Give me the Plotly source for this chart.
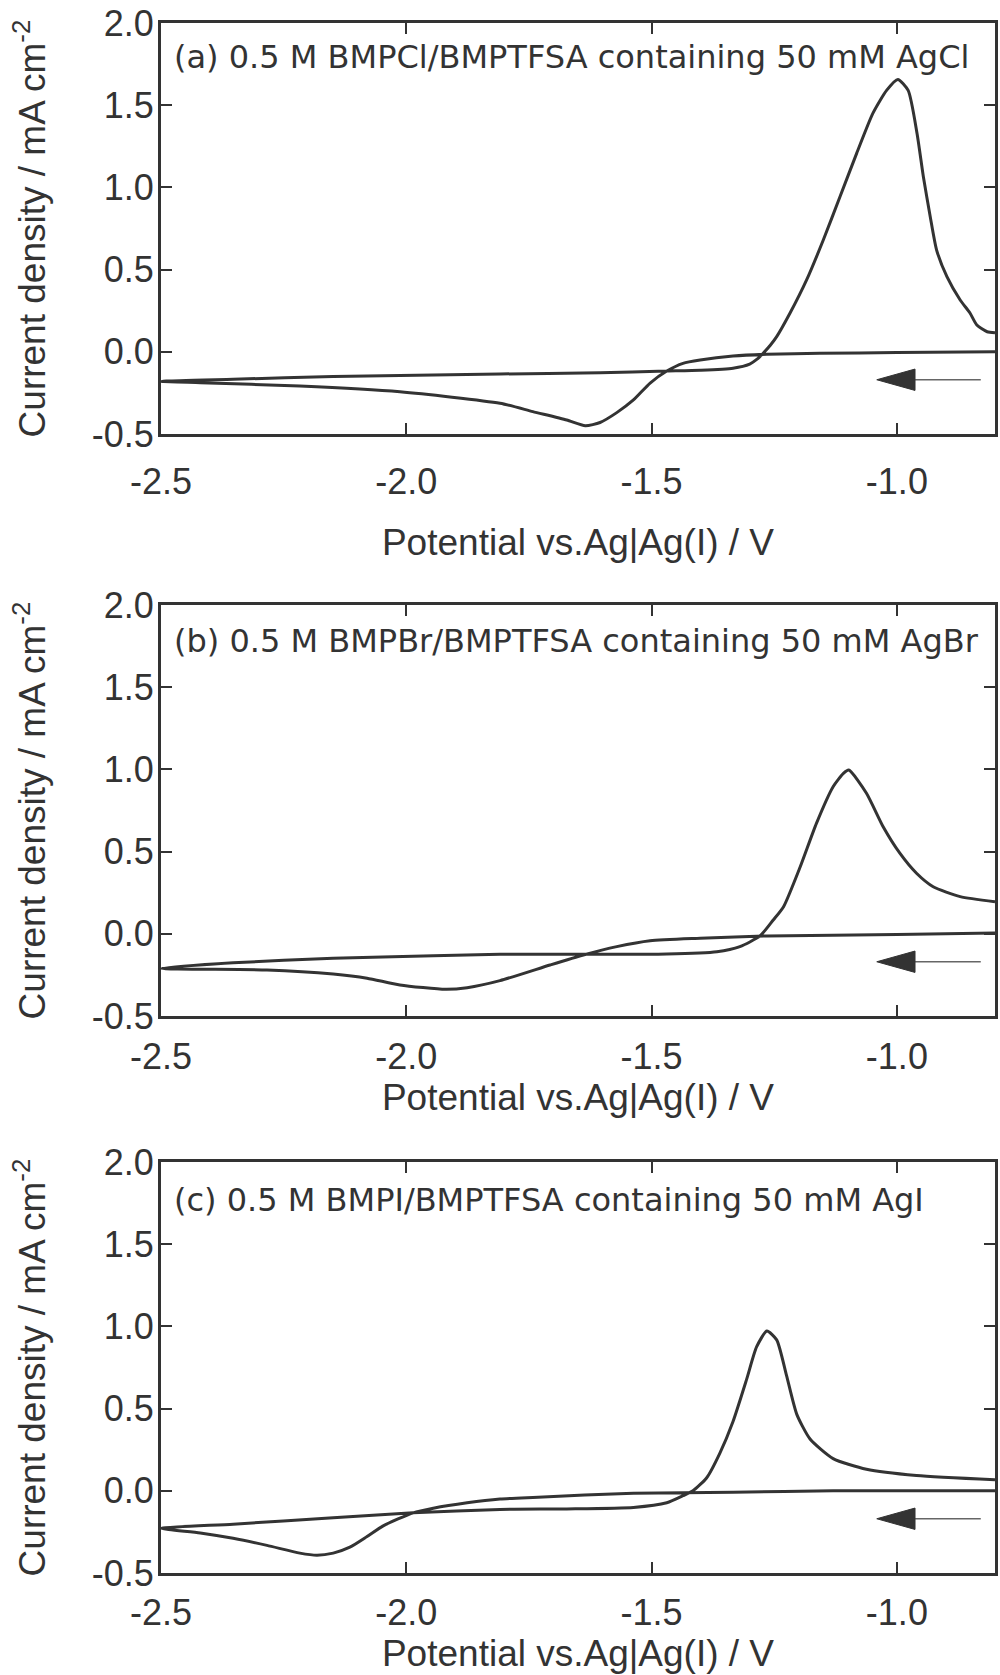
import plotly.graph_objects as go

# ---------------- data ----------------
x_tick_vals = [-2.5, -2.0, -1.5, -1.0]
x_tick_text = ["-2.5", "-2.0", "-1.5", "-1.0"]
y_tick_vals = [-0.5, 0.0, 0.5, 1.0, 1.5, 2.0]
y_tick_text = ["-0.5", "0.0", "0.5", "1.0", "1.5", "2.0"]

x_title = "Potential vs.Ag|Ag(I) / V"
y_title = "Current density / mA cm<sup>-2</sup>"

panel_labels = [
    "(a) 0.5 M BMPCl/BMPTFSA containing 50 mM AgCl",
    "(b) 0.5 M BMPBr/BMPTFSA containing 50 mM AgBr",
    "(c) 0.5 M BMPI/BMPTFSA containing 50 mM AgI",
]

# (a) AgCl: cathodic scan from -0.8 V to -2.5 V, then anodic scan back
a_potential = [-0.80, -1.00, -1.157, -1.265, -1.334, -1.401, -1.436, -1.469, -1.503, -1.537,
               -1.571, -1.605, -1.635, -1.673, -1.742, -1.809, -2.013, -2.217, -2.42, -2.50,
               -2.353, -2.149, -1.809, -1.605, -1.469, -1.401, -1.334, -1.30, -1.285, -1.273,
               -1.258, -1.245, -1.218, -1.184, -1.15, -1.116, -1.082, -1.049, -1.021, -0.998,
               -0.977, -0.959, -0.946, -0.932, -0.919, -0.898, -0.871, -0.851, -0.837, -0.816, -0.80]
a_current = [0.0, -0.005, -0.009, -0.015, -0.026, -0.05, -0.07, -0.117, -0.19, -0.293,
             -0.37, -0.43, -0.45, -0.415, -0.364, -0.313, -0.243, -0.208, -0.188, -0.18,
             -0.167, -0.151, -0.135, -0.127, -0.117, -0.112, -0.10, -0.075, -0.045, -0.01,
             0.04, 0.092, 0.234, 0.437, 0.68, 0.943, 1.207, 1.45, 1.59, 1.657,
             1.59, 1.33, 1.065, 0.822, 0.619, 0.457, 0.315, 0.236, 0.163, 0.122, 0.116]

# (b) AgBr
b_potential = [-0.80, -1.00, -1.265, -1.401, -1.503, -1.571, -1.639, -1.707, -1.809, -1.876,
               -1.92, -2.013, -2.08, -2.149, -2.284, -2.50,
               -2.353, -2.149, -1.945, -1.809, -1.639, -1.469, -1.367, -1.32, -1.279, -1.252,
               -1.231, -1.197, -1.164, -1.130, -1.109, -1.098, -1.062, -1.028, -0.994, -0.96,
               -0.926, -0.871, -0.80]
b_current = [0.005, -0.005, -0.013, -0.027, -0.042, -0.078, -0.129, -0.19, -0.285, -0.328,
             -0.338, -0.311, -0.27, -0.245, -0.22, -0.21,
             -0.176, -0.149, -0.133, -0.125, -0.125, -0.123, -0.109, -0.078, -0.013, 0.084,
             0.165, 0.408, 0.672, 0.895, 0.976, 0.996, 0.855, 0.651, 0.49, 0.368,
             0.286, 0.226, 0.195]

# (c) AgI
c_potential = [-0.80, -1.13, -1.334, -1.537, -1.742, -1.809, -1.876, -1.945, -1.986, -2.047,
               -2.08, -2.115, -2.149, -2.182, -2.217, -2.284, -2.353, -2.42, -2.50,
               -2.353, -2.149, -1.986, -1.809, -1.673, -1.537, -1.469, -1.436, -1.415, -1.388,
               -1.361, -1.334, -1.306, -1.286, -1.265, -1.245, -1.225, -1.204, -1.177, -1.13,
               -1.062, -0.96, -0.80]
c_current = [0.0, 0.0, -0.009, -0.015, -0.04, -0.05, -0.073, -0.106, -0.134, -0.213,
             -0.278, -0.343, -0.379, -0.392, -0.379, -0.332, -0.289, -0.256, -0.228,
             -0.203, -0.164, -0.134, -0.113, -0.11, -0.101, -0.073, -0.03, 0.002, 0.078,
             0.228, 0.422, 0.681, 0.875, 0.972, 0.918, 0.702, 0.465, 0.315, 0.196,
             0.131, 0.093, 0.067]

# scan-direction arrow (tip, head base, tail) in potential, and its current level
arrow_tip = -1.041
arrow_base = -0.963
arrow_tail = -0.829
arrow_level = -0.17
arrow_half = 0.065

# ---------------- figure ----------------
W, H = 1000, 1675
ink = "#333333"
tick_font = dict(family="Liberation Sans, Arial, sans-serif", size=36, color=ink)
title_font = dict(family="Liberation Sans, Arial, sans-serif", size=37, color=ink)
label_font = dict(family="DejaVu Sans, sans-serif", size=32, color=ink)

# frame pixel positions (top, bottom) for each panel
frames = [(23, 434), (605, 1016), (1162, 1573)]
x_left, x_right = 161, 995
x_label_standoff = [14, 7, 6]
x_title_standoff = [28, 7, 7]
label_offsets = [34, 36, 38]

series = [(a_potential, a_current), (b_potential, b_current), (c_potential, c_current)]

fig = go.Figure()
layout = dict(
    width=W, height=H,
    margin=dict(l=0, r=0, t=0, b=0),
    paper_bgcolor="white", plot_bgcolor="white",
    showlegend=False,
)
annotations = []
shapes = []

for i, ((top, bot), (pot, cur)) in enumerate(zip(frames, series)):
    n = "" if i == 0 else str(i + 1)
    xa, ya = "x" + n, "y" + n
    fig.add_trace(go.Scatter(
        x=pot, y=cur, mode="lines", xaxis=xa, yaxis=ya,
        line=dict(color=ink, width=3, shape="spline", smoothing=0.6),
        hoverinfo="skip",
    ))
    layout["xaxis" + n] = dict(
        domain=[x_left / W, x_right / W], anchor=ya, automargin=False,
        range=[-2.5, -0.8], tickvals=x_tick_vals, ticktext=x_tick_text,
        ticks="inside", ticklen=11, tickwidth=2, tickcolor=ink,
        showline=True, linewidth=3, linecolor=ink, mirror="ticks",
        showgrid=False, zeroline=False, tickfont=tick_font,
        ticklabelstandoff=x_label_standoff[i],
        title=dict(text=x_title, font=title_font, standoff=x_title_standoff[i]),
    )
    layout["yaxis" + n] = dict(
        domain=[1 - bot / H, 1 - top / H], anchor=xa, automargin=False,
        range=[-0.5, 2.0], tickvals=y_tick_vals, ticktext=y_tick_text,
        ticks="inside", ticklen=11, tickwidth=2, tickcolor=ink,
        showline=True, linewidth=3, linecolor=ink, mirror="ticks",
        showgrid=False, zeroline=False, tickfont=tick_font,
        ticklabelstandoff=-3,
        title=dict(text=y_title, font=title_font, standoff=35),
    )
    annotations.append(dict(
        text=panel_labels[i], xref="paper", yref="paper",
        x=172 / W, y=1 - (top + label_offsets[i]) / H, xanchor="left", yanchor="middle",
        showarrow=False, font=label_font,
    ))
    shapes.append(dict(
        type="line", xref=xa, yref=ya,
        x0=arrow_base, y0=arrow_level, x1=arrow_tail, y1=arrow_level,
        line=dict(color="#666666", width=1.5),
    ))
    shapes.append(dict(
        type="path", xref=xa, yref=ya,
        path=(f"M {arrow_tip} {arrow_level} L {arrow_base} {arrow_level + arrow_half} "
              f"L {arrow_base} {arrow_level - arrow_half} Z"),
        fillcolor=ink, line=dict(color=ink, width=1),
    ))

layout["annotations"] = annotations
layout["shapes"] = shapes
fig.update_layout(**layout)
fig.write_html("out.html")
